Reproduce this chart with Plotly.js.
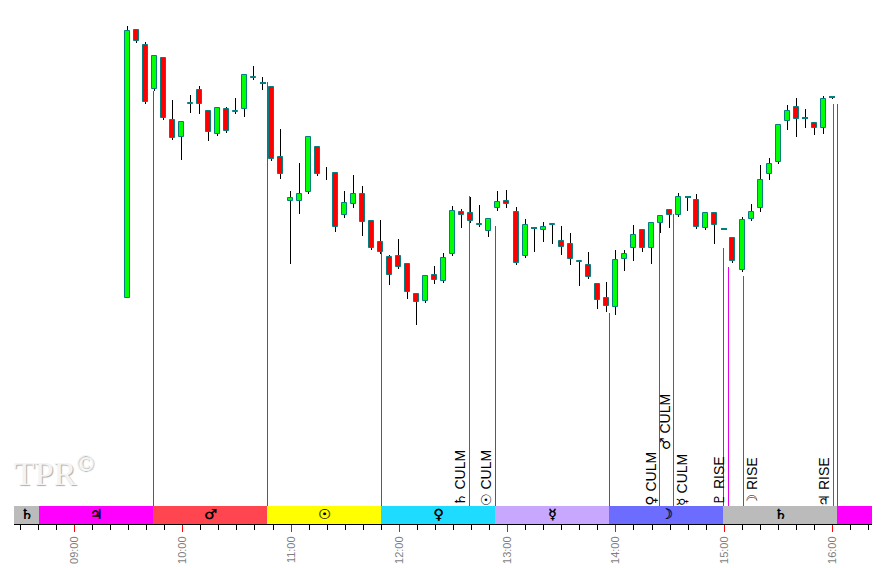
<!DOCTYPE html>
<html><head><meta charset="utf-8">
<script src="https://cdn.plot.ly/plotly-3.0.1.min.js"></script>
<style>html,body{margin:0;padding:0;background:#fff}#c{width:886px;height:568px}</style>
</head><body><div id="c"></div>
<script>
// 5-minute candles from about 09:30, one entry per candle
const opens=[270.5,538.2,523.2,478.8,510.2,448.2,430.8,463.8,478.2,457.2,433.8,459.2,455.8,458.8,491.2,485,481.2,411.2,367.2,366.8,375.8,421.2,null,395.2,352.8,363.8,374.2,347.2,326.2,311.2,312.2,304.2,274.2,266.8,293.2,287.2,314.2,356.2,355.2,344.2,337.2,360.2,367.2,356.2,312.2,339.7,338.2,343.2,327.2,324.2,307.2,303.2,284.2,270.2,261.2,308.8,320.2,338.2,320.2,345.2,358.2,353.2,371.3,368.2,340.2,355.2,339.3,330.2,298.2,349.2,360.2,393.8,405.8,447.2,461.2,450,445.2,439.8,471];
const closes=[537.2,527,465.8,512.2,449.8,429.8,446.2,465.2,463.8,435.8,460.2,436.8,457.2,493.2,489.8,485,408.8,394.2,370.2,374.2,431.2,394.2,null,340.8,365.2,374.2,346.2,320.2,316.2,293.2,301.2,276.2,266.2,292.2,288.2,310.2,357.2,353.2,347.2,343.2,349.2,366.2,364.2,305.2,343.2,339.7,341.2,344.2,320.8,309.2,306.2,291.2,268.2,262.2,308.2,314.2,333.2,320.2,345.2,352.2,353.2,371.2,371.3,341.2,355.2,343.2,339.3,307.2,348.2,356.2,388.2,404.2,443.2,457.2,449.2,450,439.8,469.2,471];
const highs=[542,538.5,526,512.5,510.5,468,446.5,473,482,457.5,460.5,461,470,493.5,502,491,481.5,439,377,405,431.5,421.5,401,395.5,377,393,382,347.5,348,313,329,304.5,274.5,292.5,302,315,362,359,371,363,349.5,377,378,361,349,339.7,346,344.5,342,335,307.5,316,284.5,286,318,318,343,338.5,345.5,352.5,358.5,375,371.3,374,355.5,355.5,339.3,330.5,351,364,403,410,443.5,463,470,459,445.5,472,471];
const lows=[270,525,464,477,448,428,408,455,454,427,432,435,454,451,488,478,407,389,304,354,374,392,388,336,350,360,332,318,314,283,299,269,243,265,284,285,312,340,345,341,331,357,360,303,310,316,326,324,313,303,282,289,259,256,253,297,307,316,304,335,340,351,357,339,338,324,339.3,305,296,347,356,388,404,438,431,440,433,434,469];

// Planetary hours: start, end (minutes), ruler glyph, colour
const hourStarts=[506.5,520.3,583.66,646.7,710,773.2,836.3,899.5,962.7];
const hourEnds=[520.3,583.66,646.7,710,773.2,836.3,899.5,962.7,981.9];
const hourGlyphs=['♄','♃','♂','☉','♀','☿','☽','♄',''];
const hourColors=['#bbbbbb','#ff00ff','#ff4650','#ffff00','#1edcff','#c8a8ff','#6c6cff','#bbbbbb','#ff00ff'];

// Hour-change verticals: time, top price
const hourLineTimes=[583.66,646.7,710,773.2,836.3,899.5,962.7];
const hourLineTops=[477,486,316,342,255,320,464];

// Culmination / rising events
const eventTimes=[758.8,864.05,871.8,902.3,910.6,960.5];
const eventTops=[372,345,354,301,292,464];
const eventGlyphs=['♄','☉','♀','♂','☿','♇','☽','♃'];
const eventWords=['CULM','CULM','CULM','CULM','CULM','RISE','RISE','RISE'];
const eventLabelTimes=[753.6,768,859.3,867.2,876.6,896.6,915.4,955.3];
const eventLabelBase=[62,62,62,118,62,62,62,62];

const tickHours=[540,600,660,720,780,840,900,960];
const tickText=['09:00','10:00','11:00','12:00','13:00','14:00','15:00','16:00'];

const BAND_LOW=44, BAND_HIGH=62;
const times=opens.map((_,i)=>569.26+5.009*i);
const TEAL='#008080';
const PXW=1/1.8047;

const traces=[];
traces.push({type:'bar',x:hourStarts.map((s,i)=>(s+hourEnds[i])/2),width:hourStarts.map((s,i)=>hourEnds[i]-s),
  base:hourStarts.map(()=>BAND_LOW),y:hourStarts.map(()=>BAND_HIGH-BAND_LOW),
  marker:{color:hourColors,line:{width:0}},hoverinfo:'skip'});
traces.push({type:'bar',x:hourLineTimes,base:hourLineTimes.map(()=>BAND_HIGH),y:hourLineTops.map(v=>v-BAND_HIGH),
  width:PXW,marker:{color:'rgba(0,128,128,0.999)',line:{width:0}},hoverinfo:'skip'});
traces.push({type:'bar',x:eventTimes,base:eventTimes.map(()=>BAND_HIGH),y:eventTops.map(v=>v-BAND_HIGH),
  width:PXW,marker:{color:'rgba(235,0,235,0.999)',line:{width:0}},hoverinfo:'skip'});
traces.push({type:'bar',x:times,base:lows,y:highs.map((h,i)=>h-lows[i]),width:PXW,marker:{color:'rgba(0,0,0,0.999)',line:{width:0}}});
const idx=times.map((_,i)=>i).filter(i=>opens[i]!==null&&opens[i]!==closes[i]);
traces.push({type:'bar',x:idx.map(i=>times[i]),base:idx.map(i=>Math.min(opens[i],closes[i])),
  y:idx.map(i=>Math.abs(closes[i]-opens[i])),width:5*PXW,
  marker:{color:idx.map(i=>closes[i]>opens[i]?'#00ff00':'#ff0000'),line:{color:TEAL,width:1}}});
const dj=times.map((_,i)=>i).filter(i=>opens[i]!==null&&opens[i]===closes[i]);
traces.push({type:'bar',x:dj.map(i=>times[i]),base:dj.map(i=>opens[i]-1),y:dj.map(()=>2),width:6*PXW,
  marker:{color:'rgba(0,128,128,0.999)',line:{width:0}},hoverinfo:'skip'});
const gl=hourGlyphs.map((g,i)=>i).filter(i=>hourGlyphs[i]);
traces.push({type:'scatter',mode:'text',x:gl.map(i=>(hourStarts[i]+hourEnds[i])/2),y:gl.map(()=>(BAND_LOW+BAND_HIGH)/2),
  text:gl.map(i=>hourGlyphs[i]),textposition:'middle center',
  textfont:{family:'DejaVu Sans',size:14,color:'#000',weight:'bold',shadow:'0.5px 0 0 #000'},hoverinfo:'skip'});

const annotations=eventWords.map((w,i)=>({x:eventLabelTimes[i],y:eventLabelBase[i],xref:'x',yref:'y',
  text:'<span style="font-family:DejaVu Sans;font-size:14px">'+eventGlyphs[i]+'</span> '+w,showarrow:false,
  textangle:-90,xanchor:'center',yanchor:'bottom',font:{family:'Liberation Sans',size:14,color:'#000'},
  borderpad:0,borderwidth:0}));
annotations.push({x:0.0,xref:'paper',xshift:-2,y:74,yref:'y',xanchor:'left',yanchor:'bottom',showarrow:false,
  text:'TPR<sup>©</sup>',font:{family:'Liberation Serif',size:34,color:'#f4f4f4',shadow:'1px 1px 1px #aaa'}});

const layout={width:886,height:568,margin:{l:14,r:14,t:0,b:44,pad:0},paper_bgcolor:'#fff',plot_bgcolor:'#fff',
  showlegend:false,barmode:'overlay',bargap:0,bargroupgap:0,dragmode:false,annotations,
  xaxis:{range:[506.48,981.9],fixedrange:true,showgrid:false,zeroline:false,showline:true,linecolor:'#000',linewidth:1,
    tickmode:'array',tickvals:tickHours,ticktext:tickText,ticks:'outside',ticklen:7,tickcolor:'#ff0000',tickwidth:1,
    tickangle:-90,tickfont:{family:'Liberation Sans',size:11,color:'#7f7f7f'},
    minor:{ticks:'outside',ticklen:5,tickcolor:'#000',tickwidth:1,tick0:540,dtick:10,showgrid:false}},
  yaxis:{range:[44,568],visible:false,showgrid:false,zeroline:false,fixedrange:true}};
Plotly.newPlot('c',traces,layout,{displayModeBar:false});
</script></body></html>
